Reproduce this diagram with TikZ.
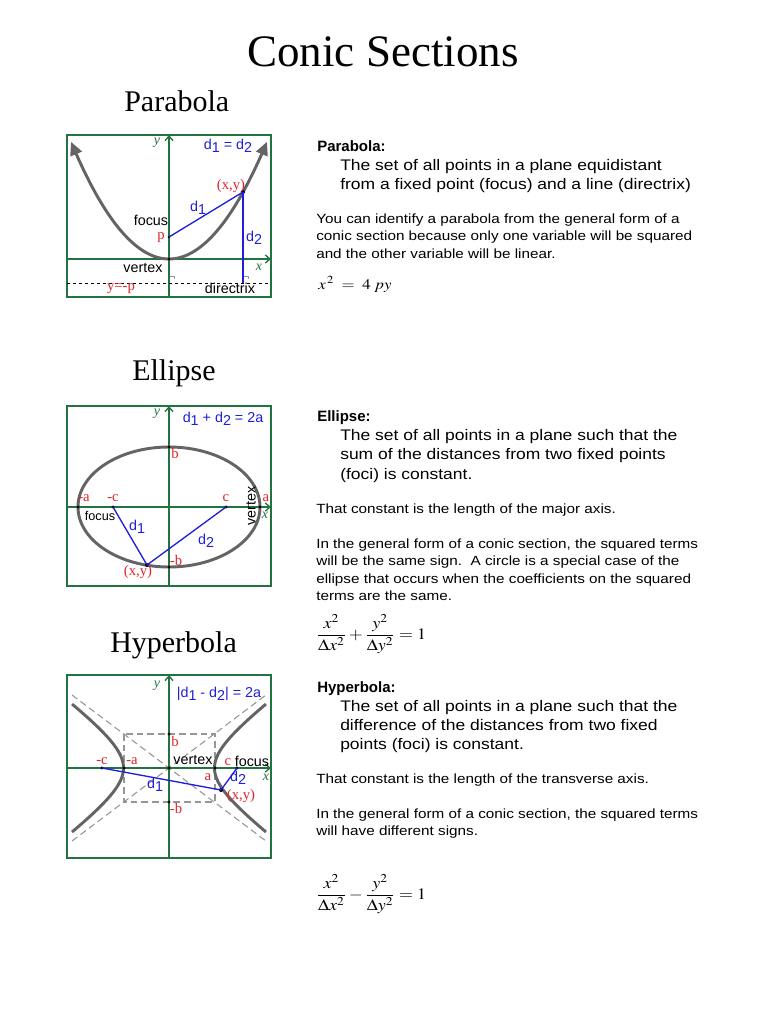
\documentclass[tikz,border=0pt]{standalone}
\usepackage{amsmath}
\usepackage{graphicx}
\usepackage{mathptmx}
\usepackage{fontspec}
\setmainfont{Liberation Sans}
\newfontfamily\tms{Liberation Serif}
\newfontfamily\bodyfont[FakeStretch=1.14]{Liberation Sans}
\newfontfamily\remfont[FakeStretch=1.145]{Liberation Sans}
\usetikzlibrary{arrows.meta, positioning, calc}

\definecolor{axisgreen}{RGB}{35,115,65}
\definecolor{curvegray}{RGB}{100,100,100}
\definecolor{asygray}{RGB}{150,150,150}
\definecolor{dblue}{RGB}{30,30,220}
\definecolor{ptred}{RGB}{225,35,40}

\newcommand{\dsub}[1]{\raisebox{-0.45ex}{#1}}

\begin{document}
\begin{tikzpicture}[
    x=0.75pt, y=-0.75pt,
    frame/.style={draw=axisgreen, line width=1.4pt},
    axis/.style={draw=axisgreen, line width=1pt,
                 -{Straight Barb[length=3.5pt, width=6pt]}},
    conic/.style={draw=curvegray, line width=2.2pt},
    asym/.style={draw=asygray, line width=0.8pt, dash pattern=on 5pt off 3pt},
    dist/.style={draw=dblue, line width=1pt},
    vdot/.style={circle, fill=black, inner sep=0pt, minimum size=3pt},
    axlab/.style={font=\tms\itshape\fontsize{10.5}{12}\selectfont,
                  text=axisgreen, inner sep=0pt},
    dlab/.style={font=\fontsize{10.75}{12}\selectfont, text=dblue, inner sep=0pt},
    plab/.style={font=\tms\fontsize{11}{12}\selectfont, text=ptred, inner sep=0pt},
    note/.style={font=\fontsize{10.75}{12}\selectfont, inner sep=0pt},
    heading/.style={font=\tms\fontsize{22.5}{26}\selectfont, anchor=base west,
                    inner sep=0pt},
    term/.style={font=\bfseries\fontsize{11.25}{14}\selectfont, anchor=base west,
                 inner sep=0pt},
    defn/.style={font=\bodyfont\fontsize{11.5}{14}\selectfont, anchor=base west,
                 inner sep=0pt},
    remark/.style={font=\remfont\fontsize{10}{12}\selectfont, anchor=base west,
                   inner sep=0pt},
    formula/.style={font=\fontsize{12}{14}\selectfont, anchor=west, inner sep=0pt}
  ]
  \useasboundingbox[fill=white] (0,0) rectangle (768,1024);

  % Title and headings
  \node[font=\tms\fontsize{33.75}{40}\selectfont, anchor=base, inner sep=0pt]
    (title) at (383,67) {Conic Sections};
  \node[heading] (hPar) at (124,111) {Parabola};
  \node[heading] (hEll) at (132,380) {Ellipse};
  \node[heading] (hHyp) at (110,652) {Hyperbola};

  % Parabola graph
  \draw[frame] (67,135) rectangle (271,297);
  \coordinate (pXl) at (67,259);  \coordinate (pXr) at (271,259);
  \coordinate (pYb) at (169,297); \coordinate (pYt) at (169,135);
  \coordinate (pDl) at (67,283);  \coordinate (pDr) at (271,283);
  \draw[axis] (pXl) -- (pXr);
  \draw[axis] (pYb) -- (pYt);
  \draw[line width=0.6pt, dash pattern=on 2.5pt off 2pt] (pDl) -- (pDr);
  \draw[conic, {Triangle[length=10pt, width=9pt]}-{Triangle[length=10pt, width=9pt]}]
    plot[domain=-98:98, samples=80] ({169+\x}, {259-0.0122*\x*\x});
  \draw[asygray, line width=0.5pt] (170,276) -- ++(4,0) -- ++(0,3);
  \draw[asygray, line width=0.5pt] (244,276) -- ++(4,0) -- ++(0,3);
  \node[vdot, minimum size=2.5pt] (pV) at (169,259) {};
  \node[vdot, minimum size=2pt] (pF) at (169,237) {};
  \node[vdot] (pP) at (243,192) {};
  \coordinate (pQ) at (243,283);
  \draw[dist] (pF.center) -- (pP.center);
  \draw[dist] (pP.center) -- (pQ);

  \node[axlab] (pYlab) at (157,143) {y};
  \node[axlab] (pXlab) at (259,267) {x};
  \node[dlab] (pRule) at (228,146) {d\dsub{1} = d\dsub{2}};
  \node[plab] (pPlab) at (231,186) {(x,y)};
  \node[dlab] (pD1) at (198,208) {d\dsub{1}};
  \node[note] (pFoc) at (151,220) {focus};
  \node[plab] (pPl) at (161,237.5) {p};
  \node[dlab] (pD2) at (254,238) {d\dsub{2}};
  \node[note] (pVert) at (143,268) {vertex};
  \node[plab] (pDirEq) at (121,289) {y=-p};
  \node[note] (pDir) at (230,288) {directrix};

  % Parabola text
  \node[term] (tPar) at (317,151) {Parabola:};
  \node[defn] (tPar1) at (340,170) {The set of all points in a plane equidistant};
  \node[defn] (tPar2) at (340,189) {from a fixed point (focus) and a line (directrix)};
  \node[remark] (tPar3) at (316,223) {You can identify a parabola from the general form of a};
  \node[remark] (tPar4) at (316,240.5) {conic section because only one variable will be squared};
  \node[remark] (tPar5) at (316,258) {and the other variable will be linear.};
  \node[formula, anchor=base west, font=\fontsize{11}{12}\selectfont]
    (fPar) at (318,289) {\scalebox{1.15}[1]{$x^{\,2}\;=\;4\;py$}};

  % Ellipse graph
  \draw[frame] (67,406) rectangle (271,586);
  \coordinate (eXl) at (67,507);  \coordinate (eXr) at (271,507);
  \coordinate (eYb) at (169,586); \coordinate (eYt) at (169,406);
  \draw[axis] (eXl) -- (eXr);
  \draw[axis] (eYb) -- (eYt);
  \draw[conic] (169,507) ellipse [x radius=68.25pt, y radius=45pt];
  \node[vdot, minimum size=2.5pt] (eL) at (78,507) {};
  \node[vdot, minimum size=2.5pt] (eFl) at (113,507) {};
  \node[vdot, minimum size=2.5pt] (eFr) at (226,507) {};
  \node[vdot, minimum size=2.5pt] (eR) at (260,507) {};
  \node[vdot, minimum size=2.5pt] (eT) at (169,447) {};
  \node[vdot, minimum size=2.5pt] (eB) at (169,567) {};
  \node[vdot] (eP) at (147,565) {};
  \draw[dist] (eFl.center) -- (eP.center);
  \draw[dist] (eP.center) -- (eFr.center);

  \node[axlab] (eYlab) at (157,414) {y};
  \node[axlab] (eXlab) at (265,515) {x};
  \node[dlab] (eRule) at (223,419) {d\dsub{1} + d\dsub{2} = 2a};
  \node[plab] (eTlab) at (175,453) {b};
  \node[plab] (eLlab) at (84,498) {-a};
  \node[plab] (eFllab) at (113,498) {-c};
  \node[plab] (eFrlab) at (226,498) {c};
  \node[plab] (eRlab) at (266,498) {a};
  \node[note, rotate=90] (eVert) at (251,506) {vertex};
  \node[note, font=\fontsize{9.5}{11}\selectfont] (eFoc) at (100,516) {focus};
  \node[dlab] (eD1) at (137,527) {d\dsub{1}};
  \node[dlab] (eD2) at (206,541) {d\dsub{2}};
  \node[plab] (eBlab) at (176,560) {-b};
  \node[plab] (ePlab) at (138,572) {(x,y)};

  % Ellipse text
  \node[term] (tEll) at (317,421) {Ellipse:};
  \node[defn] (tEll1) at (340,440) {The set of all points in a plane such that the};
  \node[defn] (tEll2) at (340,459.5) {sum of the distances from two fixed points};
  \node[defn] (tEll3) at (340,479) {(foci) is constant.};
  \node[remark] (tEll4) at (316,513) {That constant is the length of the major axis.};
  \node[remark] (tEll5) at (316,548) {In the general form of a conic section, the squared terms};
  \node[remark] (tEll6) at (316,565.5) {will be the same sign.\ \ A circle is a special case of the};
  \node[remark] (tEll7) at (316,583) {ellipse that occurs when the coefficients on the squared};
  \node[remark] (tEll8) at (316,600) {terms are the same.};
  \node[formula] (fEll) at (316,634)
    {\scalebox{1.12}[1]{$\dfrac{x^{2}}{\Delta x^{2}}+\dfrac{y^{2}}{\Delta y^{2}}=1$}};

  % Hyperbola graph
  \draw[frame] (67,675) rectangle (271,858);
  \coordinate (hXl) at (67,768);  \coordinate (hXr) at (271,768);
  \coordinate (hYb) at (169,858); \coordinate (hYt) at (169,675);
  \coordinate (hA1) at (72,695);  \coordinate (hA2) at (266,841);
  \coordinate (hA3) at (72,841);  \coordinate (hA4) at (266,695);
  \draw[asym] (124,734) rectangle (215,802);
  \draw[asym] (hA1) -- (hA2);
  \draw[asym] (hA3) -- (hA4);
  \draw[axis] (hXl) -- (hXr);
  \draw[axis] (hYb) -- (hYt);
  \draw[conic] plot[domain=-1.39:1.39, samples=60]
    ({169+45.5*cosh(\x)}, {768-34*sinh(\x)});
  \draw[conic] plot[domain=-1.39:1.39, samples=60]
    ({169-45.5*cosh(\x)}, {768-34*sinh(\x)});
  \node[vdot, minimum size=2.5pt] (hFl) at (102,768) {};
  \node[vdot, minimum size=2.5pt] (hVl) at (124,768) {};
  \node[vdot, minimum size=2.5pt] (hO) at (169,768) {};
  \node[vdot, minimum size=2.5pt] (hVr) at (215,768) {};
  \node[vdot, minimum size=2.5pt] (hT) at (169,734) {};
  \node[vdot, minimum size=2.5pt] (hB) at (169,802) {};
  \node[vdot, minimum size=2.5pt] (hFr) at (237,768) {};
  \node[vdot] (hP) at (221,790) {};
  \draw[dist] (hFl.center) -- (hP.center);
  \draw[dist] (hFr.center) -- (hP.center);

  \node[axlab] (hYlab) at (157,686) {y};
  \node[axlab] (hXlab) at (266,777) {x};
  \node[dlab] (hRule) at (219,694) {|d\dsub{1} - d\dsub{2}| = 2a};
  \node[plab] (hTlab) at (175,741) {b};
  \node[plab] (hFllab) at (102,761) {-c};
  \node[plab] (hVllab) at (132,761) {-a};
  \node[note] (hVert) at (193,760) {vertex};
  \node[plab] (hFrlab) at (228,762) {c};
  \node[note] (hFoc) at (252,761) {focus};
  \node[plab] (hVrlab) at (208,777) {a};
  \node[dlab] (hD1) at (155,785) {d\dsub{1}};
  \node[dlab] (hD2) at (238,778) {d\dsub{2}};
  \node[plab] (hPlab) at (241,795.5) {(x,y)};
  \node[plab] (hBlab) at (176,808) {-b};

  % Hyperbola text
  \node[term] (tHyp) at (317,692) {Hyperbola:};
  \node[defn] (tHyp1) at (340,711) {The set of all points in a plane such that the};
  \node[defn] (tHyp2) at (340,730) {difference of the distances from two fixed};
  \node[defn] (tHyp3) at (340,749.5) {points (foci) is constant.};
  \node[remark] (tHyp4) at (316,783) {That constant is the length of the transverse axis.};
  \node[remark] (tHyp5) at (316,818) {In the general form of a conic section, the squared terms};
  \node[remark] (tHyp6) at (316,835.5) {will have different signs.};
  \node[formula] (fHyp) at (316,894)
    {\scalebox{1.12}[1]{$\dfrac{x^{2}}{\Delta x^{2}}-\dfrac{y^{2}}{\Delta y^{2}}=1$}};
\end{tikzpicture}
\end{document}
